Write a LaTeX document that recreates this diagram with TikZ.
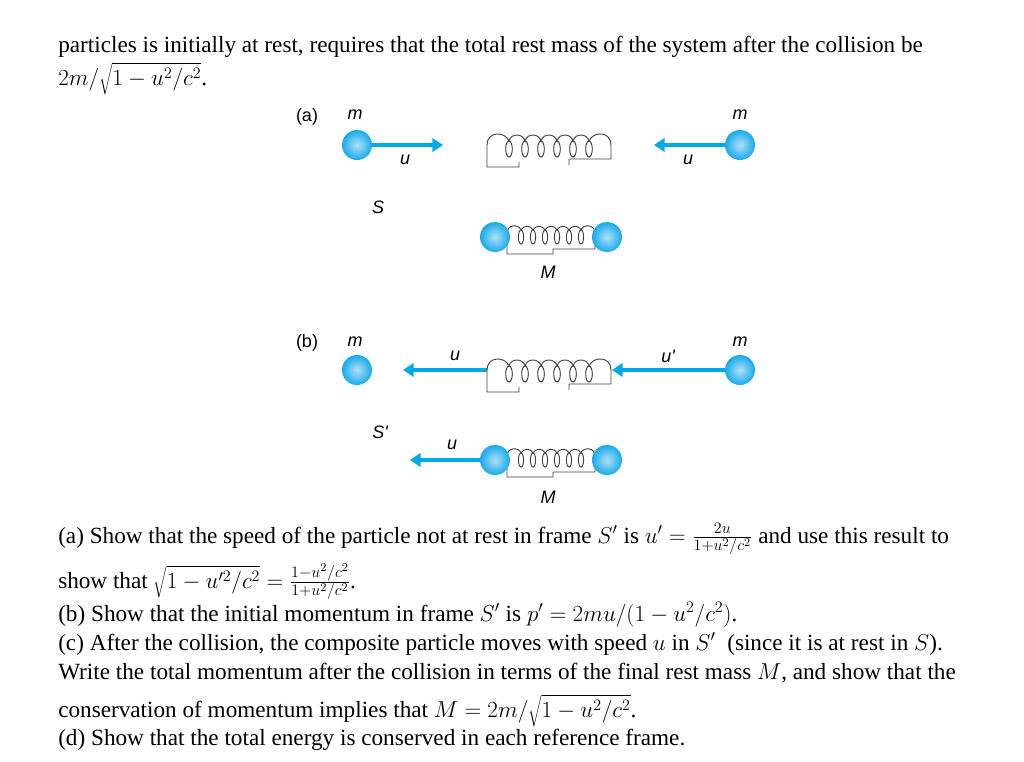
\documentclass[tikz,border=0pt]{standalone}
\usepackage{fontspec}
\setmainfont{Liberation Serif}
\newfontfamily\lab{Liberation Sans}
\usetikzlibrary{arrows.meta}
\definecolor{ballc}{RGB}{25,170,235}
\definecolor{arrc}{RGB}{0,170,230}
\tikzset{
 txt/.style={anchor=base west,inner sep=0pt,font=\fontsize{17.4}{20}\selectfont},
 lbl/.style={inner sep=0pt,font=\lab\itshape\fontsize{13.5}{15}\selectfont},
 ball/.style={circle,minimum size=22.5pt,inner sep=0pt,shading=radial,inner color=ballc!35,outer color=ballc,draw=none},
 vel/.style={draw=arrc,line width=3.6pt,-{Triangle[width=10pt,length=8pt]}},
 sp/.style={draw=black!75,line width=0.7pt},
 bigspring/.pic={
  \foreach \xc in {-40,-24,-8,8,24,40}{
   \draw[sp] (\xc,2) ellipse (3.3 and 8);
  }
  \foreach \xc in {-40,-24,-8,8,24}{
   \draw[sp] (\xc,-6) .. controls (\xc+2,-14) and (\xc+14,-14) .. (\xc+16,-6);
  }
  \draw[sp] (-40,-6) .. controls (-44,-16) and (-62,-16) .. (-62,-2) -- (-62,20) -- (-30,20) -- (-30,15);
  \draw[sp] (40,-6) .. controls (44,-16) and (62,-16) .. (62,-2) -- (62,12) -- (20,12) -- (20,18);
 },
 smallspring/.pic={
  \foreach \xc in {-30,-18,-6,6,18,30}{
   \draw[sp] (\xc,0) ellipse (2.6 and 7);
  }
  \foreach \xc in {-30,-18,-6,6,18}{
   \draw[sp] (\xc,-7) .. controls (\xc+2,-12) and (\xc+10,-12) .. (\xc+12,-7);
  }
  \draw[sp] (-30,-7) .. controls (-32,-13) and (-44,-13) .. (-44,-4) -- (-44,17) -- (2,17) -- (2,12) -- (44,12) -- (44,-4) .. controls (44,-13) and (32,-13) .. (30,-7);
 }
}
\begin{document}
\begin{tikzpicture}[x=0.75pt,y=-0.75pt]
\useasboundingbox (0,0) rectangle (1024,761);
\node[txt] (t1) at (58,52) {particles is initially at rest, requires that the total rest mass of the system after the collision be};
\node[txt] (t2) at (58,85) {$2m/\sqrt{1-u^2/c^2}$.};
% (a)
\node[lbl,font=\lab\fontsize{13.5}{15}\selectfont] (la) at (307,117) {(a)};
\node[lbl] (m1) at (355,115) {m};
\node[ball] (b1) at (357,145) {};
\coordinate (a1e) at (443,145);
\draw[vel] (b1.east) -- (a1e);
\node[lbl] (u1) at (405,160) {u};
\pic at (549,147) {bigspring};
\node[lbl] (m2) at (740,115) {m};
\node[ball] (b2) at (740,145) {};
\coordinate (a2e) at (654,145);
\draw[vel] (b2.west) -- (a2e);
\node[lbl] (u2) at (688,160) {u};
\node[lbl] (S) at (378,207) {S};
\pic at (551,237) {smallspring};
\node[ball] (b3) at (495,237) {};
\node[ball] (b4) at (607,237) {};
\node[lbl] (M1) at (548,272) {M};
% (b)
\node[lbl,font=\lab\fontsize{13.5}{15}\selectfont] (lb) at (307,343) {(b)};
\node[lbl] (m3) at (355,342) {m};
\node[ball] (b5) at (357,370) {};
\coordinate (sl) at (487,370);
\coordinate (a3e) at (403,370);
\draw[vel] (sl) -- (a3e);
\node[lbl] (u3) at (455,356) {u};
\pic at (549,372) {bigspring};
\node[lbl] (m4) at (740,342) {m};
\node[ball] (b6) at (740,370) {};
\coordinate (a4e) at (612,370);
\draw[vel] (b6.west) -- (a4e);
\node[lbl] (u4) at (668,356) {u\textquotesingle};
\node[lbl] (S2) at (380,432) {S\textquotesingle};
\pic at (551,460) {smallspring};
\node[ball] (b7) at (495,460) {};
\node[ball] (b8) at (607,460) {};
\coordinate (a5e) at (410,460);
\draw[vel] (b7.west) -- (a5e);
\node[lbl] (u5) at (452,445) {u};
\node[lbl] (M2) at (548,497) {M};
% text
\node[txt] (t3) at (58,543) {(a) Show that the speed of the particle not at rest in frame $S'$ is $u'=\frac{2u}{1+u^2/c^2}$ and use this result to};
\node[txt] (t4) at (58,588) {show that $\sqrt{1-u'^2/c^2}=\frac{1-u^2/c^2}{1+u^2/c^2}$.};
\node[txt] (t5) at (58,621) {(b) Show that the initial momentum in frame $S'$ is $p'=2mu/(1-u^2/c^2)$.};
\node[txt] (t6) at (58,650) {(c) After the collision, the composite particle moves with speed $u$ in $S'$ \ (since it is at rest in $S$).};
\node[txt] (t7) at (58,679) {Write the total momentum after the collision in terms of the final rest mass $M$, and show that the};
\node[txt] (t8) at (58,717) {conservation of momentum implies that $M=2m/\sqrt{1-u^2/c^2}$.};
\node[txt] (t9) at (58,745) {(d) Show that the total energy is conserved in each reference frame.};
\end{tikzpicture}
\end{document}
